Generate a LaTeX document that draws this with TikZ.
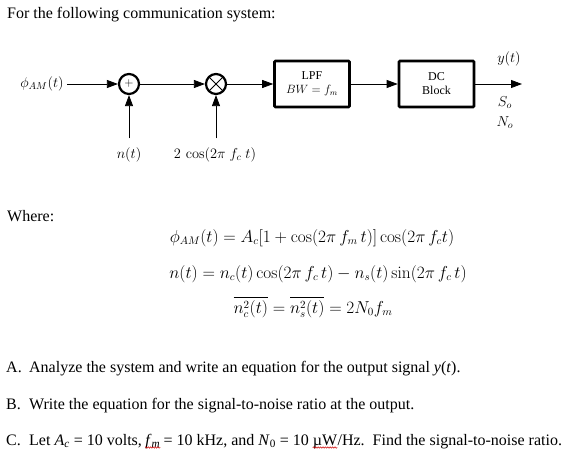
\documentclass[tikz,border=0pt]{standalone}
\usepackage[no-math]{fontspec}
\setmainfont{Liberation Serif}
\usepackage{amsmath}
\usetikzlibrary{arrows.meta,positioning,calc,decorations.pathmorphing}

\begin{document}
\begin{tikzpicture}[x=1pt, y=-1pt,
    font=\fontsize{12}{14}\selectfont,
    blk/.style={draw, line width=2.6pt, rounded corners=1pt, align=center,
      minimum width=75pt, minimum height=46pt, inner sep=2pt},
    junc/.style={draw, circle, line width=2.2pt, minimum size=20pt, inner sep=0pt},
    arr/.style={-{Triangle[length=11pt, width=8pt]}, line width=0.8pt},
    lbl/.style={font=\fontsize{14}{16}\selectfont},
    txt/.style={font=\fontsize{16}{19}\selectfont, anchor=base west, inner sep=0pt},
    eqn/.style={font=\fontsize{16.3}{19}\selectfont, inner sep=0pt},
    squig/.style={red!80!black, line width=0.5pt, decorate,
      decoration={snake, amplitude=0.7pt, segment length=2.4pt}},
  ]
  \useasboundingbox (0,0) rectangle (579,468);

  % --- heading ---
  \node[txt] (title) at (7,19) {For the following communication system:};

  % --- block diagram ---
  \node[lbl] (in) at (42,84) {$\phi_{AM}(t)$};
  \node[junc] (sum) at (129,84) {$+$};
  \node[junc, path picture={
      \draw[line width=0.8pt] (path picture bounding box.north west) -- (path picture bounding box.south east)
        (path picture bounding box.north east) -- (path picture bounding box.south west);}] (mix) at (216,84) {};
  \node[blk] (lpf) at (312,84) {LPF\\$BW = f_m$};
  \node[blk] (dcb) at (436.5,84) {DC\\Block};
  \coordinate (out) at (522,84);
  \node[lbl] (noise) at (129,155) {$n(t)$};
  \node[lbl] (carr) at (215,155) {$2\,\cos(2\pi\; f_c\; t)$};
  \node[lbl] (y) at (509,59) {$y(t)$};
  \node[lbl] (so) at (505,103) {$S_o$};
  \node[lbl] (no) at (505,123) {$N_o$};

  \draw[arr] (in) -- (sum);
  \draw[arr] (sum) -- (mix);
  \draw[arr] (mix) -- (lpf);
  \draw[arr] (lpf) -- (dcb);
  \draw[arr] (dcb) -- (out);
  \draw[arr] ([yshift=6pt]noise.north) -- (sum.south);
  \draw[arr] ([yshift=6pt]carr.north -| mix) -- (mix.south);

  % --- given signals ---
  \node[txt] (where) at (7,222) {Where:};
  \node[eqn] (eq1) at (312,238) {$\phi_{AM}(t) = A_c[1 + \cos(2\pi\, f_m\, t)]\cos(2\pi\, f_c t)$};
  \node[eqn] (eq2) at (318,274) {$n(t) = n_c(t)\cos(2\pi\, f_c\, t) - n_s(t)\sin(2\pi\, f_c\, t)$};
  \node[eqn] (eq3) at (313,307) {$\overline{n_c^2(t)} = \overline{n_s^2(t)} = 2N_0 f_m$};

  % --- questions ---
  \node[txt] (qa) at (6,372) {\makebox[23pt][l]{A.}Analyze the system and write an equation for the output signal \textit{y}(\textit{t}).};
  \node[txt] (qb) at (6,409) {\makebox[23pt][l]{B.}Write the equation for the signal-to-noise ratio at the output.};
  \node[txt] (qc1) at (6,445) {\makebox[23pt][l]{C.}Let \textit{A}\textsubscript{\textit{c}} = 10 volts,};
  \node[txt] (qfm) at ([xshift=3pt]qc1.base east) {\textit{f}\textsubscript{\textit{m}}};
  \node[txt] (qc2) at ([xshift=3pt]qfm.base east) {= 10 kHz, and \textit{N}\textsubscript{0} = 10};
  \node[txt] (qmu) at ([xshift=3.5pt]qc2.base east) {µW};
  \node[txt] (qc3) at (qmu.base east) {/Hz.\ \ Find the signal-to-noise ratio.};
  \draw[squig] ([yshift=-2.5pt]qfm.base west) -- ([yshift=-2.5pt]qfm.base east);
  \draw[squig] ([yshift=-2.5pt]qmu.base west) -- ([yshift=-2.5pt]qmu.base east);
\end{tikzpicture}
\end{document}
